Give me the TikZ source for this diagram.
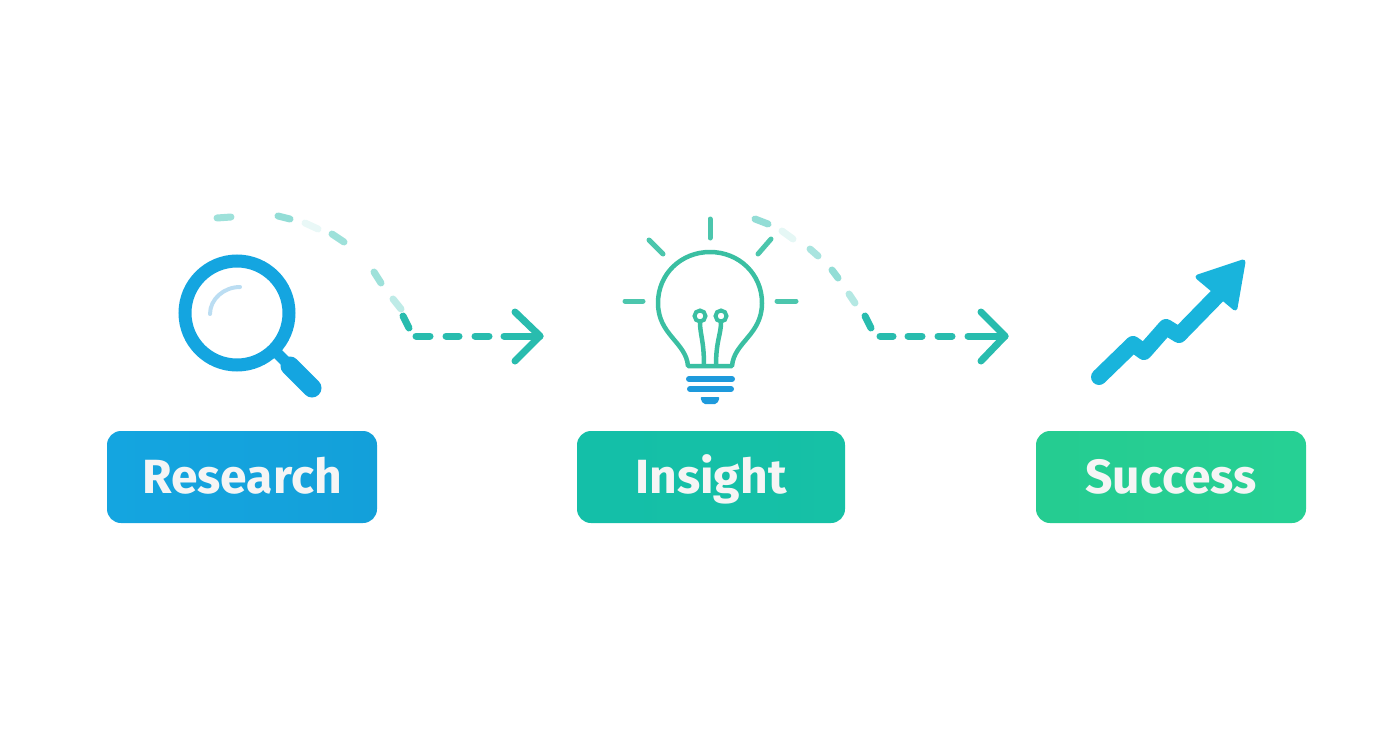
\documentclass[tikz,border=0pt]{standalone}
\usepackage{fontspec}
\setmainfont{Fira Sans}
\usetikzlibrary{arrows.meta}
\definecolor{skyblue}{HTML}{14A5E0}
\definecolor{tealgreen}{HTML}{14BFA8}
\definecolor{mintgreen}{HTML}{26D094}
\definecolor{dashteal}{HTML}{28BCAE}
\definecolor{bulbline}{HTML}{3ABFA2}
\definecolor{rayline}{HTML}{4CC6AD}
\definecolor{bulbbase}{HTML}{1E9ADC}
\definecolor{growthblue}{HTML}{19B4DC}
\definecolor{glint}{HTML}{BBDDF2}

\begin{document}
\begin{tikzpicture}[
  x=1pt,y=-1pt,
  tagbox/.style={rounded corners=14pt,minimum height=92pt,text=white!96!black,
    text height=33pt,text depth=0pt,
    font=\fontsize{48}{48}\selectfont\bfseries},
  dashline/.style={draw=dashteal,line width=7pt,line cap=round},
  fadeline/.style={draw=dashteal,line width=7pt,line cap=round,opacity=#1},
  headline/.style={draw=dashteal,line width=7pt,line cap=round,line join=round},
  rayline/.style={draw=rayline,line width=5pt,line cap=round},
  baseline/.style={draw=bulbbase,line width=6pt,line cap=round}
]
\useasboundingbox (0,0) rectangle (1392,752);

% labels
\node[tagbox,minimum width=270pt,left color=skyblue,right color=skyblue!97!black] (research) at (242,477) {Research};
\node[tagbox,minimum width=268pt,left color=tealgreen,right color=tealgreen!90!mintgreen] (insight) at (711,477) {Insight};
\node[tagbox,minimum width=270pt,left color=mintgreen!98!black,right color=mintgreen] (success) at (1171,477) {Success};

% magnifier
\coordinate (lens) at (237,313);
\draw[skyblue,line width=13pt] (lens) circle (52pt);
\draw[glint,line width=4pt,line cap=round] (210,314) .. controls (210,299) and (224,287) .. (240,287);
\draw[skyblue,line width=11pt] (275,351) -- (291,367);
\draw[skyblue,line width=19pt,line cap=round] (290,366) -- (312,388);

% bulb
\draw[bulbline,line width=4.5pt,line join=round] (688,366) .. controls (686,342) and (658,335) .. (658,303)
  .. controls (658,274) and (681,252) .. (710,252) .. controls (739,252) and (762,274) .. (762,303)
  .. controls (762,335) and (734,342) .. (732,366) -- cycle;
\foreach \fx/\lx in {700/704,721/716} {
  \draw[bulbline,line width=4pt] (\fx,316) circle (5.5pt);
  \draw[bulbline,line width=4.5pt] (\fx,322) .. controls (\fx,335) and (\lx,340) .. (\lx,366);
}
\foreach \ax/\ay/\bx/\by in {710/219/710/238,649/240/663/254,771/239/758/254,625/301/643/301,777/301/796/301}
  \draw[rayline] (\ax,\ay) -- (\bx,\by);
\draw[baseline] (689,379) -- (732,379);
\draw[baseline] (690,389) -- (731,389);
\fill[bulbbase,rounded corners=2pt] (700,397) -- (720,397) -- (717,404) -- (703,404) -- cycle;

% growth arrow
\draw[growthblue,line width=16pt,line cap=round,line join=round]
  (1099,377) -- (1133,344) -- (1144,352) -- (1166,327) -- (1179,335) -- (1220,293);
\filldraw[growthblue,line width=5pt,line join=round] (1243,262) -- (1198,277) -- (1235,308) -- cycle;

% first path
\foreach \ax/\ay/\bx/\by/\op in {217/218/231/217/.45,278/216/290/219/.5,305/223/318/229/.1,
  332/234/344/242/.45,374/272/381/283/.45,393/299/401/309/.3,403/316/409/328/1}
  \draw[fadeline=\op] (\ax,\ay) -- (\bx,\by);
\coordinate (bendA) at (416,336);
\coordinate (tipA) at (540,336);
\draw[dashline,dash pattern=on 14pt off 16pt on 13pt off 16pt on 14pt off 15pt on 40pt off 0pt] (bendA) -- (tipA);
\draw[headline] (515,312) -- (tipA) -- (515,361);

% second path
\foreach \ax/\ay/\bx/\by/\op in {755/219/768/224/.5,782/231/793/239/.12,810/249/818/256/.4,
  832/270/838/278/.5,849/294/855/303/.35,865/316/871/328/1}
  \draw[fadeline=\op] (\ax,\ay) -- (\bx,\by);
\coordinate (bendB) at (880,336);
\coordinate (tipB) at (1005,336);
\draw[dashline,dash pattern=on 13pt off 15pt on 14pt off 16pt on 14pt off 16pt on 40pt off 0pt] (bendB) -- (tipB);
\draw[headline] (981,312) -- (tipB) -- (981,361);
\end{tikzpicture}
\end{document}
